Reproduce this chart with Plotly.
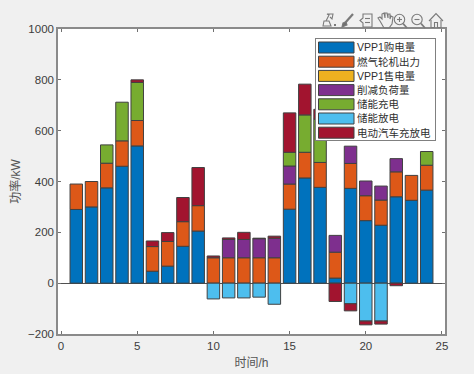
import plotly.graph_objects as go

hours = list(range(1, 25))
names = ["VPP1购电量", "燃气轮机出力", "VPP1售电量", "削减负荷量", "储能充电", "储能放电", "电动汽车充放电"]
colors = ["#0072BD", "#DD5818", "#EDB120", "#7E2F8E", "#77AC30", "#4DBEEE", "#A2142F"]

vpp_buy = [290, 300, 375, 460, 540, 47, 67, 145, 205, None, None, None, None, None,
           291, 414, 377, 20, 373, 246, 228, 340, 326, 366]
turbine = [100, 100, 97, 100, 100, 97, 97, 97, 100, 100, 100, 100, 100, 100,
           99, 101, 98, 102, 98, 98, 99, 98, 98, 98]
vpp_sell = [None] * 24
curtail = [None, None, None, None, None, None, None, None, None, None, 72, 72, 75, 77,
           71, None, None, 66, 68, 58, 55, 52, None, None]
charge = [None, None, 72, 152, 150, None, None, None, None, None, None, None, None, None,
          54, 147, 170, None, None, None, None, None, None, 54]
discharge = [None, None, None, None, None, None, None, None, None, -62, -58, -58, -55, -83,
             None, None, None, None, -81, -149, -149, None, None, None]
ev = [None, None, None, None, 10, 22, 35, 95, 150, 7, 6, 28, 2, 8,
      155, 121, 39, -72, -28, -15, -12, -10, None, None]
series = [vpp_buy, turbine, vpp_sell, curtail, charge, discharge, ev]

x_ticks = [0, 5, 10, 15, 20, 25]
y_ticks = [-200, 0, 200, 400, 600, 800, 1000]

W, H = 474, 374
L, R, T, B = 58, 445, 29, 334

fig = go.Figure()
for name, col, vals in zip(names, colors, series):
    fig.add_trace(go.Bar(x=hours, y=vals, name=name,
                         marker=dict(color=col, line=dict(color="#404040", width=1))))


def px(x, y):
    return (x - L) / (R - L), 1 - (y - T) / (B - T)


def path(points, close=False):
    s = ""
    for i, (x, y) in enumerate(points):
        a, b = px(x, y)
        s += ("M" if i == 0 else "L") + f"{a:.5f},{b:.5f} "
    return s + ("Z" if close else "")


def icon(points, close=False, width=1.1, fill=None):
    d = dict(type="path", xref="paper", yref="paper", path=path(points, close),
             line=dict(color="#7a7a7a", width=width), layer="above")
    if fill:
        d["fillcolor"] = fill
    return d


def circle(cx, cy, r):
    a0, b0 = px(cx - r, cy + r)
    a1, b1 = px(cx + r, cy - r)
    return dict(type="circle", xref="paper", yref="paper", x0=a0, y0=b0, x1=a1, y1=b1,
                line=dict(color="#7a7a7a", width=1.1))


shapes = [
    # export
    icon([(323, 26), (324, 21), (329, 21), (331, 26)], True),
    icon([(326, 21), (329, 15), (327, 14), (333, 14), (332, 19), (330, 17)]),
    icon([(334, 25), (336, 25)], width=2),
    # brush
    icon([(353, 14), (345, 23)], width=2.2),
    icon([(342, 27), (343, 23), (346, 22), (347, 25)], True, fill="#707070"),
    # data tips / legend
    icon([(363, 14), (372, 14), (372, 27), (363, 27), (363, 23), (360, 20.5), (363, 18)], True),
    icon([(365, 18.5), (370, 18.5)]),
    icon([(365, 22.5), (370, 22.5)]),
    # hand
    icon([(380, 21), (378, 18), (380, 17), (382, 19), (382, 14), (384, 13), (385, 18), (385, 13),
          (387, 13), (388, 18), (388, 14), (390, 14), (390, 19), (391, 16), (393, 17), (392, 24),
          (389, 28), (384, 28)], True),
    # zoom in
    circle(399.5, 19.5, 5.2),
    icon([(403, 23.5), (407, 28)], width=1.8),
    icon([(397, 19.5), (402, 19.5)]),
    icon([(399.5, 17), (399.5, 22)]),
    # zoom out
    circle(417, 19.5, 5.2),
    icon([(421, 23.5), (425, 28)], width=1.8),
    icon([(414.5, 19.5), (419.5, 19.5)]),
    # home
    icon([(429, 21), (436, 13.5), (443, 21)]),
    icon([(431, 20), (431, 27.5), (434.5, 27.5), (434.5, 22.5), (437.5, 22.5), (437.5, 27.5), (441, 27.5), (441, 20)]),
]

axis_font = dict(family="Liberation Sans, Arial, sans-serif", size=11.5, color="#3c3c3c")
title_font = dict(family="Liberation Sans, Noto Sans CJK SC, sans-serif", size=12, color="#555555")

fig.update_layout(
    width=W, height=H, autosize=False,
    barmode="relative", bargap=0.18,
    margin=dict(l=L, r=W - R, t=T, b=H - B, pad=0, autoexpand=False),
    paper_bgcolor="#f0f0f0", plot_bgcolor="#ffffff",
    shapes=shapes,
    showlegend=True,
    legend=dict(x=0.97, xref="paper", y=0.97, yref="paper", xanchor="right", yanchor="top",
                bgcolor="#ffffff", bordercolor="#808080", borderwidth=1,
                itemwidth=30, traceorder="normal", itemclick=False, itemdoubleclick=False,
                font=dict(family="Liberation Sans, Noto Sans CJK SC, sans-serif", size=10.5, color="#303030")),
    xaxis=dict(range=[-0.2, 25.2], tickvals=x_ticks, ticks="inside", ticklen=3, tickwidth=1,
               tickcolor="#707070", showline=True, linecolor="#8a8a8a", linewidth=1.5, mirror="ticks",
               showgrid=False, zeroline=False, tickfont=axis_font, automargin=False,
               title=dict(text="时间/h", font=title_font, standoff=8)),
    yaxis=dict(range=[-200, 1000], tickvals=y_ticks, ticks="inside", ticklen=3, tickwidth=1,
               tickcolor="#707070", showline=True, linecolor="#8a8a8a", linewidth=1.5, mirror="ticks",
               showgrid=False, zeroline=True, zerolinecolor="#505050", zerolinewidth=1,
               tickfont=axis_font, tickformat="d", automargin=False,
               title=dict(text="功率/kW", font=title_font, standoff=5)),
)

post = """
document.body.style.margin = '0';
var leg = document.querySelector('.legend');
var ox = 315.5, oy = 38.5, w = 119.5, h = 102;
leg.setAttribute('transform', 'translate(' + ox + ',' + oy + ')');
var bg = leg.querySelector('rect.bg');
bg.setAttribute('width', w); bg.setAttribute('height', h); bg.setAttribute('x', 0); bg.setAttribute('y', 0);
document.querySelectorAll('clipPath[id*="legend"] rect').forEach(function (r) {
  r.setAttribute('width', w); r.setAttribute('height', h);
});
var sb = leg.querySelector('.scrollbox');
if (sb) { sb.removeAttribute('clip-path'); sb.setAttribute('transform', 'translate(0,0)'); }
leg.querySelectorAll('.traces').forEach(function (t, i) {
  t.setAttribute('transform', 'translate(0,' + (9 + i * 14.2) + ')');
  t.querySelectorAll('.legendpoints path').forEach(function (p) {
    p.setAttribute('d', 'M3,-5.5H38.5V5.5H3Z'); p.removeAttribute('transform');
    p.style.strokeWidth = '1px'; p.style.stroke = '#404040';
  });
  t.querySelectorAll('.legendsymbols').forEach(function (g) { g.removeAttribute('transform'); });
  var tx = t.querySelector('text.legendtext');
  if (tx) { tx.setAttribute('x', 41.5); tx.setAttribute('y', 3.8);
    tx.querySelectorAll('tspan').forEach(function (s) { s.setAttribute('x', 41.5); }); }
  var toggle = t.querySelector('rect.legendtoggle');
  if (toggle) toggle.setAttribute('height', 14);
});
"""
fig.write_html("out.html", post_script=post, config=dict(displayModeBar=False, responsive=False))
